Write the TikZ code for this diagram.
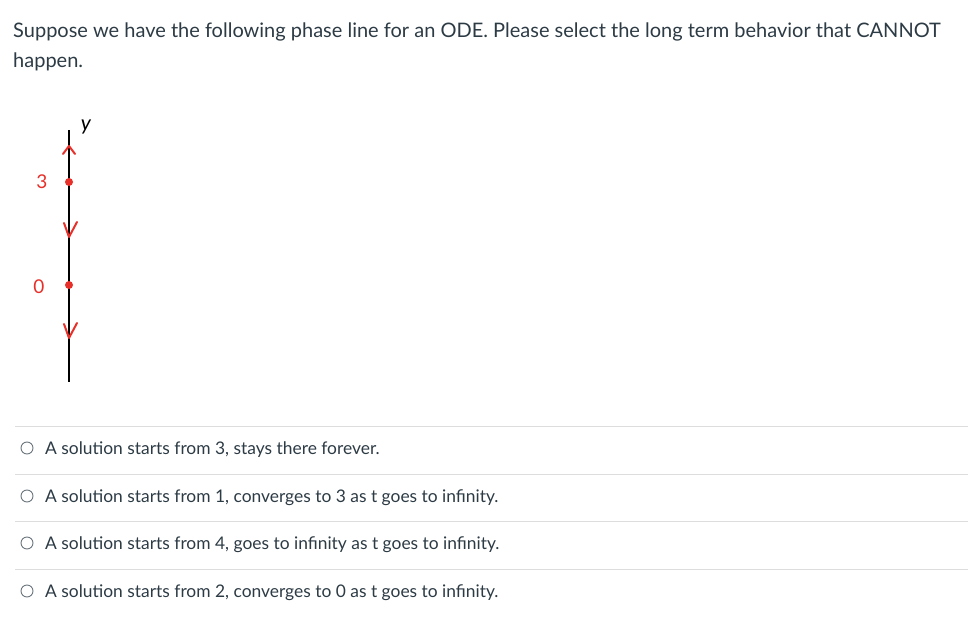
\documentclass[tikz,border=0pt]{standalone}
\usepackage{fontspec}
\setmainfont{Lato}
\definecolor{txt}{HTML}{2D3B45}
\definecolor{sep}{HTML}{DDDDDD}
\definecolor{ink}{HTML}{E8302A}
\begin{document}
\begin{tikzpicture}[x=1pt,y=-1pt,
  qtext/.style={anchor=base west,inner sep=0pt,text=txt,font=\fontsize{20}{24}\selectfont},
  otext/.style={anchor=base west,inner sep=0pt,text=txt,font=\fontsize{17.4}{20}\selectfont},
  radio/.style={circle,draw=txt!70,line width=0.9pt,minimum size=12pt,inner sep=0pt},
  sepline/.style={draw=sep,line width=0.8pt},
  chev/.style={draw=ink,line width=2pt,line cap=round,line join=round},
  eqdot/.style={circle,fill=ink,minimum size=8pt,inner sep=0pt},
  hand/.style={text=ink,font=\fontsize{19}{19}\selectfont}]
\useasboundingbox (0,0) rectangle (968,620);
\fill[white] (0,0) rectangle (968,620);
% question
\node[qtext] (q1) at (13,38) {Suppose we have the following phase line for an ODE. Please select the long term behavior that CANNOT};
\node[qtext] (q2) at (13,68) {happen.};
% phase line
\coordinate (top) at (69,130);
\coordinate (bot) at (69,382);
\draw[line width=2pt] (top) -- (bot);
\node[font=\fontsize{21}{21}\selectfont\itshape] (ylab) at (86,127) {y};
\node[eqdot] (d3) at (69,182) {};
\node[eqdot] (d0) at (69,285) {};
\node[hand] (l3) at (42,182) {3};
\node[hand] (l0) at (39,287) {0};
\coordinate (u) at (69,146);
\draw[chev] ([shift={(-6,8)}]u) -- (u) -- ([shift={(6,8)}]u);
\coordinate (a1) at (69,237);
\draw[chev] ([shift={(-5,-14)}]a1) -- (a1) -- ([shift={(8,-15)}]a1);
\coordinate (a2) at (69,338);
\draw[chev] ([shift={(-5,-14)}]a2) -- (a2) -- ([shift={(8,-15)}]a2);
% options
\foreach \n/\y in {s1/426,s2/474,s3/521,s4/569}{
  \coordinate (\n a) at (15,\y);
  \coordinate (\n b) at (968,\y);
  \draw[sepline] (\n a) -- (\n b);
}
\node[radio] (r1) at (27,448) {};
\node[radio] (r2) at (27,496) {};
\node[radio] (r3) at (27,543) {};
\node[radio] (r4) at (27,591) {};
\node[otext] (o1) at (45,454) {A solution starts from 3, stays there forever.};
\node[otext] (o2) at (45,502) {A solution starts from 1, converges to 3 as t goes to infinity.};
\node[otext] (o3) at (45,549) {A solution starts from 4, goes to infinity as t goes to infinity.};
\node[otext] (o4) at (45,597) {A solution starts from 2, converges to 0 as t goes to infinity.};
\end{tikzpicture}
\end{document}
